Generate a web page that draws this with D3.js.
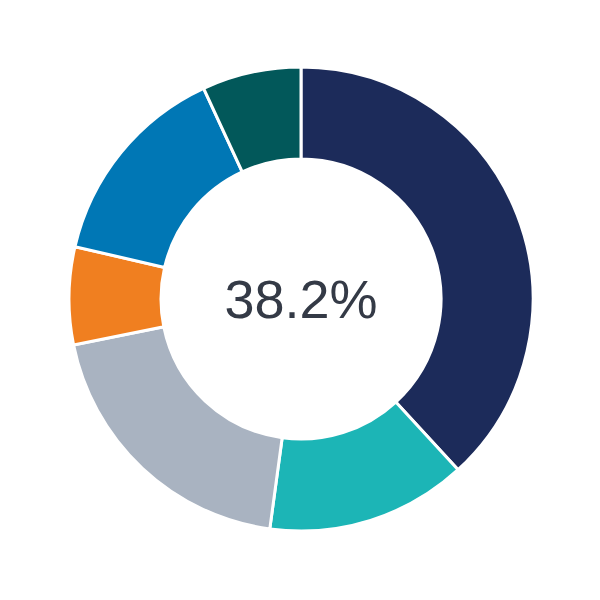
<!DOCTYPE html>
<html>
<head>
<meta charset="utf-8">
<script src="https://cdn.jsdelivr.net/npm/d3@7"></script>
<style>
  body { margin: 0; background: #fff; }
</style>
</head>
<body>
<svg id="chart"></svg>
<script>
const categories = ['A', 'B', 'C', 'D', 'E', 'F'];
const values = [38.2, 14.0, 19.7, 6.8, 14.5, 6.9];
const colors = ['#1c2b5a', '#1cb5b6', '#a9b3c1', '#f07f20', '#0077b5', '#02585a'];
const centerLabel = '38.2%';

const width = 600, height = 600;
const outerR = 232, innerR = 140;

const svg = d3.select('#chart')
  .attr('width', width)
  .attr('height', height);

const g = svg.append('g')
  .attr('transform', `translate(${301},${299})`);

const pie = d3.pie().sort(null).value(d => d.value);
const arc = d3.arc().innerRadius(innerR).outerRadius(outerR);

const data = categories.map((c, i) => ({ name: c, value: values[i] }));

g.selectAll('path')
  .data(pie(data))
  .enter().append('path')
  .attr('d', arc)
  .attr('fill', (d, i) => colors[i])
  .attr('stroke', '#fff')
  .attr('stroke-width', 3);

g.append('text')
  .attr('text-anchor', 'middle')
  .attr('dy', '0.35em')
  .attr('font-family', 'Liberation Sans, Arial, sans-serif')
  .attr('font-size', 54)
  .attr('fill', '#343a46')
  .text(centerLabel);
</script>
</body>
</html>
